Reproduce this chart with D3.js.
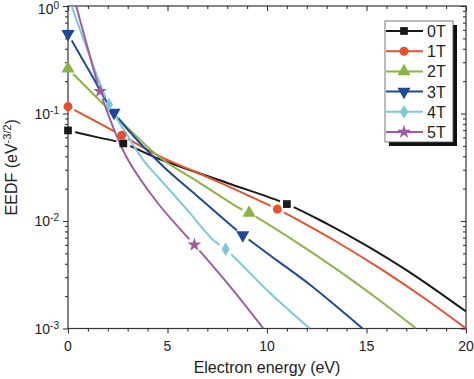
<!DOCTYPE html>
<html>
<head>
<meta charset="utf-8">
<script src="https://cdn.jsdelivr.net/npm/d3@7"></script>
<style>
  body { margin: 0; background: #fff; }
  text { font-family: Arial, "Liberation Sans", sans-serif; fill: #222; }
</style>
</head>
<body>
<div id="chart"></div>
<script>
// Series (magnetic field) and the EEDF curves
const seriesNames = ["0T", "1T", "2T", "3T", "4T", "5T"];

const energy0T = [0, 1.5, 2.78, 4.62, 8, 11.0, 13, 15, 16.83, 18, 20];
const eedf0T   = [0.0696, 0.060, 0.0527, 0.0375, 0.0226, 0.01437, 0.00944, 0.0059, 0.00366, 0.00263, 0.00144];
const marks0T  = [0, 2.78, 11.0];

const energy1T = [0, 2.70, 4.62, 7.5, 10.52, 11.66, 13.5, 15.83, 18, 20];
const eedf1T   = [0.116, 0.0626, 0.040, 0.0234, 0.0129, 0.00999, 0.00641, 0.00347, 0.00186, 0.001];
const marks1T  = [0, 2.70, 10.52];

const energy2T = [0, 2.26, 2.45, 4.62, 6.5, 8.64, 9.1, 11.66, 13.67, 15.5, 17.49];
const eedf2T   = [0.261, 0.10, 0.0927, 0.039, 0.0234, 0.0131, 0.0119, 0.00604, 0.00338, 0.00192, 0.001];
const marks2T  = [0, 9.1];

const energy3T = [0, 1.15, 2.31, 4.62, 6.5, 8.28, 8.78, 10.5, 12.16, 14.8];
const eedf3T   = [0.55, 0.234, 0.102, 0.0344, 0.017, 0.0088, 0.0074, 0.0043, 0.00255, 0.001];
const marks3T  = [0, 2.31, 8.78];

const energy4T = [0, 1.0, 2.06, 3.0, 3.77, 4.62, 6, 7.29, 7.92, 10.15, 12.15];
const eedf4T   = [1.25, 0.38, 0.121, 0.062, 0.037, 0.0245, 0.0126, 0.00667, 0.00547, 0.00214, 0.001];
const marks4T  = [2.06, 7.92];

const energy5T = [0.2, 1.0, 1.61, 2.3, 3.03, 4.46, 6.03, 6.35, 8.14, 9.82];
const eedf5T   = [1.4, 0.40, 0.161, 0.072, 0.0367, 0.0151, 0.00697, 0.006, 0.00247, 0.001];
const marks5T  = [1.61, 6.35];

const xTicks = [0, 5, 10, 15, 20];
const yTickExponents = [0, -1, -2, -3];

const colors = ["#1a1a1a", "#e5512d", "#8ab348", "#1f4899", "#7cc8da", "#a05ca0"];
const symbols = [d3.symbolSquare, d3.symbolCircle, d3.symbolTriangle, d3.symbolTriangle, d3.symbolDiamond, d3.symbolStar];
const symbolSizes = [60, 64, 75, 75, 55, 60];
const symbolRotate = [0, 0, 0, 180, 0, 0];

const energies = [energy0T, energy1T, energy2T, energy3T, energy4T, energy5T];
const eedfs = [eedf0T, eedf1T, eedf2T, eedf3T, eedf4T, eedf5T];
const marks = [marks0T, marks1T, marks2T, marks3T, marks4T, marks5T];

const series = seriesNames.map((name, i) => ({
    name: name,
    points: energies[i].map((e, j) => ({ e: e, f: eedfs[i][j] })),
    marks: marks[i].map(m => ({ e: m, f: eedfs[i][energies[i].indexOf(m)] }))
}));

const W = 474, H = 379;
const plot = { left: 68, right: 466, top: 6, bottom: 328.5 };

const svg = d3.select("#chart").append("svg")
    .attr("width", W)
    .attr("height", H);

const x = d3.scaleLinear().domain([0, 20]).range([plot.left, plot.right]);
const y = d3.scaleLog().domain([1e-3, 1]).range([plot.bottom, plot.top]);

const defs = svg.append("defs");
defs.append("clipPath").attr("id", "plotClip")
    .append("rect")
    .attr("x", plot.left).attr("y", plot.top)
    .attr("width", plot.right - plot.left).attr("height", plot.bottom - plot.top);

// Gaps in each line around its own symbols
series.forEach((s, i) => {
    const m = defs.append("mask").attr("id", "gap" + i)
        .attr("maskUnits", "userSpaceOnUse")
        .attr("x", 0).attr("y", 0).attr("width", W).attr("height", H);
    m.append("rect").attr("width", W).attr("height", H).attr("fill", "white");
    m.selectAll("circle").data(s.marks).join("circle")
        .attr("cx", d => x(d.e)).attr("cy", d => y(d.f))
        .attr("r", 7.5).attr("fill", "black");
});

// Minor ticks
const yMinor = [];
[-3, -2, -1].forEach(p => { for (let k = 2; k <= 9; k++) yMinor.push(k * Math.pow(10, p)); });
const yMajor = yTickExponents.map(p => Math.pow(10, p));
const xMinor = d3.range(0, 21, 1).filter(v => v % 5 !== 0);

function styleAxis(g) {
    g.select(".domain").remove();
    g.selectAll(".tick line").attr("stroke", "#333").attr("stroke-width", 1.1);
    g.selectAll(".tick text").remove();
}

// Bottom axis (outward ticks)
svg.append("g").attr("transform", `translate(0,${plot.bottom})`)
    .call(d3.axisBottom(x).tickValues(xTicks).tickSize(5).tickFormat(""))
    .call(styleAxis);
svg.append("g").attr("transform", `translate(0,${plot.bottom})`)
    .call(d3.axisBottom(x).tickValues(xMinor).tickSize(3).tickFormat(""))
    .call(styleAxis);
// Top axis (inward ticks)
svg.append("g").attr("transform", `translate(0,${plot.top})`)
    .call(d3.axisTop(x).tickValues(xTicks).tickSize(-5).tickFormat(""))
    .call(styleAxis);
svg.append("g").attr("transform", `translate(0,${plot.top})`)
    .call(d3.axisTop(x).tickValues(xMinor).tickSize(-3).tickFormat(""))
    .call(styleAxis);
// Left axis (outward ticks)
svg.append("g").attr("transform", `translate(${plot.left},0)`)
    .call(d3.axisLeft(y).tickValues(yMajor).tickSize(5).tickFormat(""))
    .call(styleAxis);
svg.append("g").attr("transform", `translate(${plot.left},0)`)
    .call(d3.axisLeft(y).tickValues(yMinor).tickSize(3).tickFormat(""))
    .call(styleAxis);
// Right axis (inward ticks)
svg.append("g").attr("transform", `translate(${plot.right},0)`)
    .call(d3.axisRight(y).tickValues(yMajor).tickSize(-5).tickFormat(""))
    .call(styleAxis);
svg.append("g").attr("transform", `translate(${plot.right},0)`)
    .call(d3.axisRight(y).tickValues(yMinor).tickSize(-3).tickFormat(""))
    .call(styleAxis);

// Frame
svg.append("rect")
    .attr("x", plot.left).attr("y", plot.top)
    .attr("width", plot.right - plot.left).attr("height", plot.bottom - plot.top)
    .attr("fill", "none").attr("stroke", "#333").attr("stroke-width", 1.2);

// Tick labels
svg.selectAll(".xlab").data(xTicks).join("text")
    .attr("x", d => x(d)).attr("y", plot.bottom + 22)
    .attr("text-anchor", "middle").attr("font-size", 14)
    .text(d => d);

yTickExponents.forEach(p => {
    const t = svg.append("text")
        .attr("x", plot.left - 9).attr("y", Math.max(y(Math.pow(10, p)) + 5, 14))
        .attr("text-anchor", "end").attr("font-size", 14);
    t.append("tspan").text("10");
    t.append("tspan").attr("dy", -5).attr("font-size", 10).text(p === 0 ? "0" : "-" + (-p));
});

// Axis titles
svg.append("text")
    .attr("x", (plot.left + plot.right) / 2).attr("y", 373)
    .attr("text-anchor", "middle").attr("font-size", 16)
    .text("Electron energy (eV)");

const yt = svg.append("text")
    .attr("transform", `translate(17,${(plot.top + plot.bottom) / 2}) rotate(-90)`)
    .attr("text-anchor", "middle").attr("font-size", 16);
yt.append("tspan").text("EEDF (eV");
yt.append("tspan").attr("dy", -6).attr("font-size", 11).text("-3/2");
yt.append("tspan").attr("dy", 6).text(")");

// Curves
const line = d3.line()
    .x(d => x(d.e))
    .y(d => y(d.f))
    .curve(d3.curveCatmullRom.alpha(0.5));

const curves = svg.append("g").attr("clip-path", "url(#plotClip)");
series.forEach((s, i) => {
    curves.append("path")
        .datum(s.points)
        .attr("fill", "none")
        .attr("stroke", colors[i])
        .attr("stroke-width", 2)
        .attr("mask", `url(#gap${i})`)
        .attr("d", line);
});

// Symbols
series.forEach((s, i) => {
    svg.append("g").selectAll("path").data(s.marks).join("path")
        .attr("transform", d => `translate(${x(d.e)},${y(d.f)}) rotate(${symbolRotate[i]})`)
        .attr("d", d3.symbol().type(symbols[i]).size(symbolSizes[i]))
        .attr("fill", colors[i]);
});

// Legend
const lg = { x: 385, y: 21, w: 68, h: 121 };
svg.append("rect")
    .attr("x", lg.x + 4).attr("y", lg.y + 4).attr("width", lg.w).attr("height", lg.h)
    .attr("fill", "#111");
svg.append("rect")
    .attr("x", lg.x).attr("y", lg.y).attr("width", lg.w).attr("height", lg.h)
    .attr("fill", "#fff").attr("stroke", "#555").attr("stroke-width", 0.8);

const items = svg.append("g").selectAll("g").data(series).join("g")
    .attr("transform", (d, i) => `translate(${lg.x},${lg.y + 10 + i * 20.2})`);
items.append("line")
    .attr("x1", 1).attr("x2", 38)
    .attr("stroke", (d, i) => colors[i]).attr("stroke-width", 2);
items.append("path")
    .attr("transform", (d, i) => `translate(19,0) rotate(${symbolRotate[i]})`)
    .attr("d", (d, i) => d3.symbol().type(symbols[i]).size(symbolSizes[i])())
    .attr("fill", (d, i) => colors[i]);
items.append("text")
    .attr("x", 42).attr("y", 6)
    .attr("font-size", 16)
    .text(d => d.name);
</script>
</body>
</html>
